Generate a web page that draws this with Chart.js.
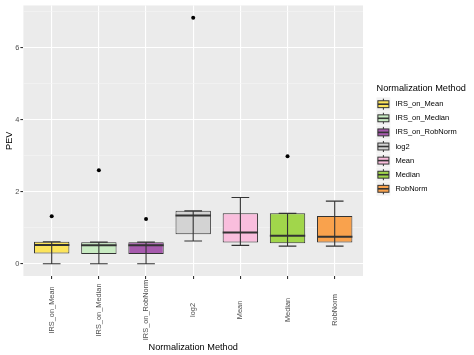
<!DOCTYPE html>
<html><head><meta charset="utf-8">
<script src="https://cdn.jsdelivr.net/npm/chart.js@4"></script>
<style>html,body{margin:0;padding:0;background:#fff}#wrap{width:474px;height:355px;position:relative}canvas{display:block}</style>
</head><body><div id="wrap"><canvas id="c" width="474" height="355"></canvas></div>
<script>
// ---- data ----
const categories = ['IRS_on_Mean','IRS_on_Median','IRS_on_RobNorm','log2','Mean','Median','RobNorm'];
const lowerWhisker = [0.00, 0.00, 0.00, 0.63, 0.51, 0.49, 0.49];
const q1 = [0.285, 0.27, 0.27, 0.82, 0.59, 0.57, 0.59];
const medians = [0.52, 0.51, 0.51, 1.34, 0.87, 0.78, 0.75];
const q3 = [0.61, 0.60, 0.60, 1.47, 1.40, 1.40, 1.33];
const upperWhisker = [0.61, 0.60, 0.60, 1.47, 1.84, 1.40, 1.74];
const outliers = [[1.32], [2.60], [1.24], [6.84], [], [2.99], []];
const yTickValues = [0, 1, 2, 3, 4, 5, 6, 7];

// ---- styles ----
const boxColors = ['#FCE45A','#C8EBC2','#A65AAD','#D3D3D3','#F9BEDD','#A1D64B','#F9A24D'];
const FONT = '"Liberation Sans", Arial, Helvetica, sans-serif';
const INK = '#333333';

const boxData = categories.map((c, i) => ({x: i, y: [q1[i], q3[i]]}));
const outlierData = [];
outliers.forEach((arr, i) => arr.forEach(v => outlierData.push({x: i, y: v})));

const boxPlugin = {
  id: 'boxExtras',
  beforeDraw(chart) {
    const {ctx, chartArea: a} = chart;
    ctx.save();
    ctx.fillStyle = '#EBEBEB';
    ctx.fillRect(a.left, a.top, a.right - a.left, a.bottom - a.top);
    ctx.restore();
  },
  afterDatasetsDraw(chart) {
    const xs = chart.scales.x, ys = chart.scales.y, ctx = chart.ctx;
    const meta = chart.getDatasetMeta(0);
    ctx.save();
    ctx.strokeStyle = INK;
    categories.forEach((c, i) => {
      const w = meta.data[i].width;
      const cx = xs.getPixelForValue(i);
      const yLo = ys.getPixelForValue(lowerWhisker[i]);
      const yHi = ys.getPixelForValue(upperWhisker[i]);
      ctx.lineWidth = 1.1;
      ctx.beginPath();
      ctx.moveTo(cx, yLo); ctx.lineTo(cx, yHi);
      ctx.moveTo(cx - w / 4, yLo); ctx.lineTo(cx + w / 4, yLo);
      ctx.moveTo(cx - w / 4, yHi); ctx.lineTo(cx + w / 4, yHi);
      ctx.stroke();
      const ym = ys.getPixelForValue(medians[i]);
      ctx.lineWidth = 2;
      ctx.beginPath();
      ctx.moveTo(cx - w / 2, ym); ctx.lineTo(cx + w / 2, ym);
      ctx.stroke();
    });
    ctx.restore();
  },
  afterDraw(chart) {
    const ctx = chart.ctx;
    const xs = chart.scales.x;
    ctx.save();
    // x category labels, rotated 90 degrees and centred (ggplot angle = 90)
    ctx.fillStyle = '#4D4D4D';
    ctx.font = '7.4px ' + FONT;
    ctx.textAlign = 'center';
    ctx.textBaseline = 'middle';
    xs.ticks.forEach(t => {
      const px = xs.getPixelForValue(t.value);
      ctx.save();
      ctx.translate(px, 310);
      ctx.rotate(-Math.PI / 2);
      ctx.fillText(categories[t.value], 0, 0);
      ctx.restore();
    });
    // legend
    ctx.fillStyle = '#000';
    ctx.textBaseline = 'middle';
    ctx.textAlign = 'left';
    ctx.font = '9.2px ' + FONT;
    ctx.fillText('Normalization Method', 376.5, 88);
    const k = 13.8;
    categories.forEach((c, i) => {
      const cy = 104.2 + i * 14.1;
      const kx = 376.5, ky = cy - k / 2;
      ctx.fillStyle = '#F2F2F2';
      ctx.fillRect(kx, ky, k, k);
      const bx = kx + k * 0.1, bw = k * 0.8, by = ky + k * 0.25, bh = k * 0.5;
      ctx.fillStyle = boxColors[i];
      ctx.fillRect(bx, by, bw, bh);
      ctx.strokeStyle = INK;
      ctx.lineWidth = 1;
      ctx.strokeRect(bx, by, bw, bh);
      ctx.beginPath();
      ctx.moveTo(kx + k / 2, ky + k * 0.1); ctx.lineTo(kx + k / 2, by);
      ctx.moveTo(kx + k / 2, by + bh); ctx.lineTo(kx + k / 2, ky + k * 0.9);
      ctx.stroke();
      ctx.lineWidth = 1.6;
      ctx.beginPath();
      ctx.moveTo(bx, cy); ctx.lineTo(bx + bw, cy);
      ctx.stroke();
      ctx.fillStyle = '#000';
      ctx.font = '7.5px ' + FONT;
      ctx.fillText(c, 395.4, cy);
    });
    ctx.restore();
  }
};

new Chart(document.getElementById('c'), {
  type: 'bar',
  data: {
    datasets: [
      {
        type: 'bar',
        data: boxData,
        backgroundColor: boxColors,
        borderColor: INK,
        borderWidth: 1,
        borderSkipped: false,
        barPercentage: 0.75,
        categoryPercentage: 1,
        order: 2
      },
      {
        type: 'scatter',
        data: outlierData,
        backgroundColor: '#000',
        borderColor: '#000',
        pointRadius: 2,
        borderWidth: 0,
        order: 1
      }
    ]
  },
  options: {
    responsive: false,
    animation: false,
    events: [],
    layout: {padding: {left: 0, right: 111, top: 4, bottom: 0}},
    plugins: {legend: {display: false}, tooltip: {enabled: false}},
    scales: {
      x: {
        type: 'linear',
        offset: false,
        min: -0.6, max: 6.6,
        afterBuildTicks: s => { s.ticks = categories.map((_, i) => ({value: i})); },
        afterFit: s => { s.height = 79; },
        ticks: {display: false, callback: v => categories[v]},
        grid: {offset: false, color: '#FFFFFF', lineWidth: 1.1, tickColor: INK, tickLength: 3},
        border: {display: false},
        title: {display: true, text: 'Normalization Method', color: '#000',
                font: {family: FONT, size: 9.2}, padding: {top: 2, bottom: 2}}
      },
      y: {
        min: -0.342, max: 7.182,
        afterBuildTicks: s => { s.ticks = yTickValues.map(v => ({value: v})); },
        afterFit: s => { s.width = 23.4; },
        ticks: {
          callback: v => (v % 2 === 0 ? String(v) : ''),
          font: {family: FONT, size: 7.4}, color: '#4D4D4D', padding: 1
        },
        grid: {
          color: c => (c.tick && c.tick.value % 2 ? '#F5F5F5' : '#FFFFFF'),
          lineWidth: c => (c.tick && c.tick.value % 2 ? 0.6 : 1.1),
          tickColor: c => (c.tick && c.tick.value % 2 ? 'rgba(0,0,0,0)' : INK),
          tickLength: 3
        },
        border: {display: false},
        title: {display: true, text: 'PEV', color: '#000',
                font: {family: FONT, size: 9.2}, padding: {top: 4, bottom: 4}}
      }
    }
  },
  plugins: [boxPlugin]
});
</script>
</body></html>
